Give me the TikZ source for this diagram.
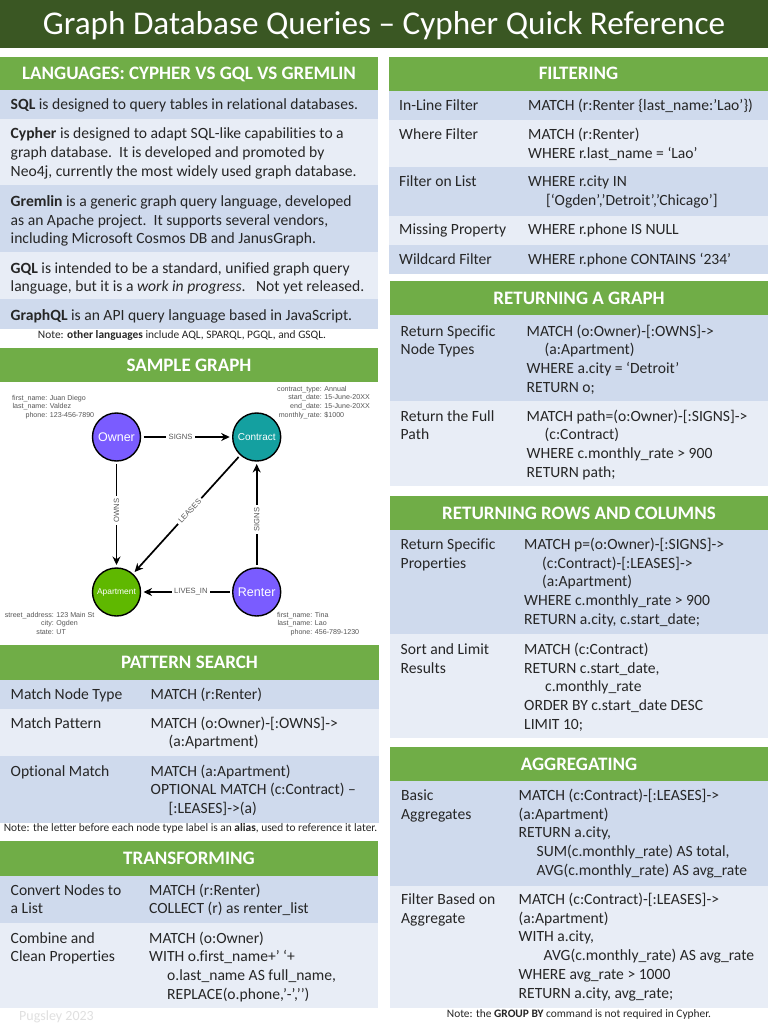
\documentclass[tikz,border=0pt]{standalone}
\usepackage{fontspec}
\setmainfont[Ligatures={NoCommon}]{Carlito}
\newfontfamily\graphfont{Liberation Sans}
\usetikzlibrary{arrows.meta}
\definecolor{titlegreen}{HTML}{3A5723}
\definecolor{hdrgreen}{HTML}{70AD47}
\definecolor{banddark}{HTML}{CFDAED}
\definecolor{bandlight}{HTML}{E8EDF6}
\definecolor{bodyink}{HTML}{262626}
\definecolor{propink}{HTML}{555555}
\definecolor{ownerblue}{HTML}{7A5CFF}
\definecolor{contractteal}{HTML}{14A0A0}
\definecolor{aptgreen}{HTML}{5FB800}
\newcommand{\rowlines}[1]{\begin{tabular}[t]{@{}l@{}}#1\end{tabular}}
\newcommand{\ind}[1]{\hspace*{#1pt}}
\newcommand{\hdr}[6]{\node[hdrbox,minimum width=#4pt-#2pt,minimum height=#5pt-#3pt] (#1) at ({(#2+#4)/2},{(#3+#5)/2}) {#6};}
\newcommand{\band}[5]{\fill[#1] (#2,#3) rectangle (#4,#5);}
\tikzset{
  hdrbox/.style={fill=hdrgreen,text=white,inner sep=0pt,text height=15pt,text depth=3pt,font=\fontsize{19}{22}\selectfont\bfseries},
  body/.style={anchor=base west,inner sep=0pt,text=bodyink,font=\fontsize{15.6}{18.7}\selectfont},
  notetext/.style={anchor=base,inner sep=0pt,text=bodyink,font=\fontsize{11.4}{13}\selectfont},
  gnode/.style={circle,draw=black,line width=1.4pt,minimum size=48pt,inner sep=0pt,outer sep=3pt,text=white,font=\graphfont},
  conn/.style={draw=black,line width=1.7pt,-{Stealth[length=8.5pt,width=8pt]}},
  elabel/.style={fill=white,inner sep=2.4pt,text=propink,font=\graphfont\fontsize{7.6}{9}\selectfont},
  prop/.style={anchor=base west,inner sep=0pt,text=propink,font=\graphfont\fontsize{7.1}{8.9}\selectfont},
}
\begin{document}
\begin{tikzpicture}[x=1pt,y=-1pt]
\useasboundingbox (0,0) rectangle (768,1024);
\fill[white] (0,0) rectangle (768,1024);
% title
\node[fill=titlegreen,minimum width=768pt,minimum height=48pt,inner sep=0pt,text=white,text height=26pt,text depth=4pt,font=\fontsize{33.2}{36}\selectfont] (title) at (384,24) {Graph Database Queries -- Cypher Quick Reference};

% LEFT: languages
\hdr{hlang}{0}{57}{378}{90}{LANGUAGES: CYPHER VS GQL VS GREMLIN}
\band{banddark}{0}{90}{378}{119}
\band{bandlight}{0}{119}{378}{185}
\band{banddark}{0}{185}{378}{252}
\band{bandlight}{0}{252}{378}{299}
\band{banddark}{0}{299}{378}{329}
\node[body] (tsql) at (10.5,109.5) {\textbf{SQL} is designed to query tables in relational databases.};
\node[body] (tcypher) at (10.5,139) {\rowlines{\textbf{Cypher} is designed to adapt SQL-like capabilities to a\\graph database.\ \ It is developed and promoted by\\Neo4j, currently the most widely used graph database.}};
\node[body] (tgremlin) at (10.5,206.5) {\rowlines{\textbf{Gremlin} is a generic graph query language, developed\\as an Apache project.\ \ It supports several vendors,\\including Microsoft Cosmos DB and JanusGraph.}};
\node[body] (tgql) at (10.5,273) {\rowlines{\textbf{GQL} is intended to be a standard, unified graph query\\language, but it is a \textit{work in progress}.\ \ \ Not yet released.}};
\node[body] (tgraphql) at (10.5,320) {\textbf{GraphQL} is an API query language based in JavaScript.};
\node[notetext] (nlang) at (182,338) {Note: \textbf{other languages} include AQL, SPARQL, PGQL, and GSQL.};

% LEFT: sample graph
\hdr{hgraph}{0}{348}{378}{382}{SAMPLE GRAPH}
\node[gnode,fill=ownerblue,font=\graphfont\fontsize{12.5}{15}\selectfont] (owner) at (116.5,437) {Owner};
\node[gnode,fill=contractteal,font=\graphfont\fontsize{10}{12}\selectfont] (contract) at (256.7,437) {Contract};
\node[gnode,fill=aptgreen,font=\graphfont\fontsize{8.4}{10}\selectfont] (apartment) at (116.5,592) {Apartment};
\node[gnode,fill=ownerblue,font=\graphfont\fontsize{12.5}{15}\selectfont] (renter) at (256.7,592) {Renter};
\draw[conn] (owner) -- node[elabel,pos=.43] (lsigns) {SIGNS} (contract);
\draw[conn] (owner) -- node[elabel,pos=.46,rotate=90] (lowns) {OWNS} (apartment);
\draw[conn] (contract) -- node[elabel,pos=.47,rotate=47] (lleases) {LEASES} (apartment);
\draw[conn] (renter) -- node[elabel,pos=.45,rotate=90] (lsigns2) {SIGNS} (contract);
\draw[conn] (renter) -- node[elabel,pos=.45] (llives) {LIVES\_IN} (apartment);
\node[prop] (powner) at (12,400) {\begin{tabular}[t]{@{}r@{ }l@{}}first\_name:&Juan Diego\\last\_name:&Valdez\\phone:&123-456-7890\end{tabular}};
\node[prop] (pcontract) at (277,391) {\begin{tabular}[t]{@{}r@{ }l@{}}contract\_type:&Annual\\start\_date:&15-June-20XX\\end\_date:&15-June-20XX\\monthly\_rate:&\$1000\end{tabular}};
\node[prop] (papt) at (4.7,617) {\begin{tabular}[t]{@{}r@{ }l@{}}street\_address:&123 Main St\\city:&Ogden\\state:&UT\end{tabular}};
\node[prop] (prenter) at (277,617) {\begin{tabular}[t]{@{}r@{ }l@{}}first\_name:&Tina\\last\_name:&Lao\\phone:&456-789-1230\end{tabular}};

% LEFT: pattern search
\hdr{hpattern}{0}{645}{379}{680}{PATTERN SEARCH}
\band{banddark}{0}{680}{379}{709}
\band{bandlight}{0}{709}{379}{756}
\band{banddark}{0}{756}{379}{823}
\node[body] (pa1) at (10.5,699) {Match Node Type};
\node[body] (pb1) at (150.5,699) {MATCH (r:Renter)};
\node[body] (pa2) at (10.5,728) {Match Pattern};
\node[body] (pb2) at (150.5,728) {\rowlines{MATCH (o:Owner)-[:OWNS]->\\\ind{18}(a:Apartment)}};
\node[body] (pa3) at (10.5,776) {Optional Match};
\node[body] (pb3) at (150.5,776) {\rowlines{MATCH (a:Apartment)\\OPTIONAL MATCH (c:Contract) --\\\ind{18}[:LEASES]->(a)}};
\node[notetext] (npattern) at (190.5,831) {Note: the letter before each node type label is an \textbf{alias}, used to reference it later.};

% LEFT: transforming
\hdr{htrans}{0}{841}{378}{876}{TRANSFORMING}
\band{banddark}{0}{876}{378}{923}
\band{bandlight}{0}{923}{378}{1008}
\node[body] (ta1) at (10.5,895) {\rowlines{Convert Nodes to\\a List}};
\node[body] (tb1) at (149,895) {\rowlines{MATCH (r:Renter)\\COLLECT (r) as renter\_list}};
\node[body] (ta2) at (10.5,943) {\rowlines{Combine and\\Clean Properties}};
\node[body] (tb2) at (149,943) {\rowlines{MATCH (o:Owner)\\WITH o.first\_name+’ ‘+\\\ind{18}o.last\_name AS full\_name,\\\ind{18}REPLACE(o.phone,’-’,’’)}};
\node[anchor=base west,inner sep=0pt,text=black!12,font=\fontsize{14}{18}\selectfont] (credit) at (19,1020) {Pugsley 2023};

% RIGHT: filtering
\hdr{hfilter}{389}{57}{768}{91}{FILTERING}
\band{banddark}{389}{91}{768}{120}
\band{bandlight}{389}{120}{768}{167.5}
\band{banddark}{389}{167.5}{768}{216}
\band{bandlight}{389}{216}{768}{245}
\band{banddark}{389}{245}{768}{274}
\node[body] (fa1) at (399,111) {In-Line Filter};
\node[body] (fb1) at (528,111) {MATCH (r:Renter \{last\_name:’Lao’\})};
\node[body] (fa2) at (399,139.5) {Where Filter};
\node[body] (fb2) at (528,139.5) {\rowlines{MATCH (r:Renter)\\WHERE r.last\_name = ‘Lao’}};
\node[body] (fa3) at (399,187) {Filter on List};
\node[body] (fb3) at (528,187) {\rowlines{WHERE r.city IN\\\ind{18}[‘Ogden’,’Detroit’,’Chicago’]}};
\node[body] (fa4) at (399,235) {Missing Property};
\node[body] (fb4) at (528,235) {WHERE r.phone IS NULL};
\node[body] (fa5) at (399,264) {Wildcard Filter};
\node[body] (fb5) at (528,264) {WHERE r.phone CONTAINS ‘234’};

% RIGHT: returning a graph
\hdr{hretg}{390}{281}{768}{315}{RETURNING A GRAPH}
\band{banddark}{390}{315}{768}{401}
\band{bandlight}{390}{401}{768}{486}
\node[body] (ga1) at (400.5,336) {\rowlines{Return Specific\\Node Types}};
\node[body] (gb1) at (526.5,336) {\rowlines{MATCH (o:Owner)-[:OWNS]->\\\ind{18}(a:Apartment)\\WHERE a.city = ‘Detroit’\\RETURN o;}};
\node[body] (ga2) at (400.5,421) {\rowlines{Return the Full\\Path}};
\node[body] (gb2) at (526.5,421) {\rowlines{MATCH path=(o:Owner)-[:SIGNS]->\\\ind{18}(c:Contract)\\WHERE c.monthly\_rate > 900\\RETURN path;}};

% RIGHT: returning rows
\hdr{hretr}{390}{496}{768}{530}{RETURNING ROWS AND COLUMNS}
\band{banddark}{390}{530}{768}{634}
\band{bandlight}{390}{634}{768}{738}
\node[body] (ra1) at (400.5,549.5) {\rowlines{Return Specific\\Properties}};
\node[body] (rb1) at (524,549.5) {\rowlines{MATCH p=(o:Owner)-[:SIGNS]->\\\ind{18}(c:Contract)-[:LEASES]->\\\ind{18}(a:Apartment)\\WHERE c.monthly\_rate > 900\\RETURN a.city, c.start\_date;}};
\node[body] (ra2) at (400.5,654.5) {\rowlines{Sort and Limit\\Results}};
\node[body] (rb2) at (524,654.5) {\rowlines{MATCH (c:Contract)\\RETURN c.start\_date,\\\ind{21}c.monthly\_rate\\ORDER BY c.start\_date DESC\\LIMIT 10;}};

% RIGHT: aggregating
\hdr{hagg}{390}{747}{768}{781}{AGGREGATING}
\band{banddark}{390}{781}{768}{886}
\band{bandlight}{390}{886}{768}{1008}
\node[body] (aa1) at (401,800.5) {\rowlines{Basic\\Aggregates}};
\node[body] (ab1) at (518.5,800.5) {\rowlines{MATCH (c:Contract)-[:LEASES]->\\(a:Apartment)\\RETURN a.city,\\\ind{18}SUM(c.monthly\_rate) AS total,\\\ind{18}AVG(c.monthly\_rate) AS avg\_rate}};
\node[body] (aa2) at (401,904.5) {\rowlines{Filter Based on\\Aggregate}};
\node[body] (ab2) at (518.5,904.5) {\rowlines{MATCH (c:Contract)-[:LEASES]->\\(a:Apartment)\\WITH a.city,\\\ind{25}AVG(c.monthly\_rate) AS avg\_rate\\WHERE avg\_rate > 1000\\RETURN a.city, avg\_rate;}};
\node[notetext] (nagg) at (579,1017) {Note: the \textbf{GROUP BY} command is not required in Cypher.};
\end{tikzpicture}
\end{document}
